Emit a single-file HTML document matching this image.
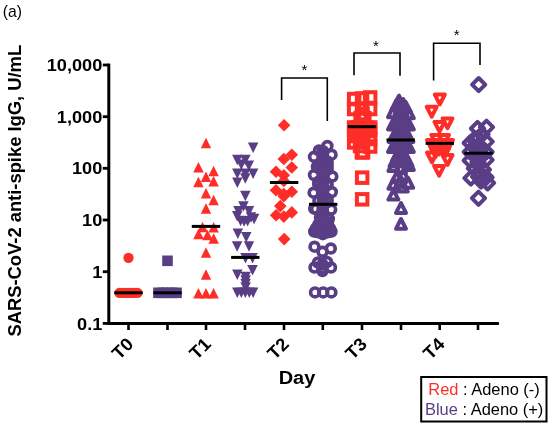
<!DOCTYPE html>
<html><head><meta charset="utf-8"><title>Figure</title>
<style>
html,body{margin:0;padding:0;background:#fff;}
body{width:550px;height:427px;overflow:hidden;}
svg{display:block;}
text{font-family:"Liberation Sans",sans-serif;fill:#000;}
.b16{font-size:17.4px;font-weight:bold;}
.b18{font-size:18px;font-weight:bold;}
.b16t{font-size:18px;font-weight:bold;}
.b17{font-size:18.4px;font-weight:bold;}
.r157{font-size:15.7px;}
.r164{font-size:16.45px;}
.star{font-size:15px;}
</style></head><body>
<svg width="550" height="427" viewBox="0 0 550 427">
<rect width="550" height="427" fill="#fff"/>
<circle cx="128.5" cy="257.8" r="5.15" fill="#ff2d27"/>
<circle cx="119.5" cy="292.8" r="5.15" fill="#ff2d27"/>
<circle cx="122.5" cy="292.8" r="5.15" fill="#ff2d27"/>
<circle cx="125.5" cy="292.8" r="5.15" fill="#ff2d27"/>
<circle cx="128.5" cy="292.8" r="5.15" fill="#ff2d27"/>
<circle cx="131.5" cy="292.8" r="5.15" fill="#ff2d27"/>
<circle cx="134.5" cy="292.8" r="5.15" fill="#ff2d27"/>
<circle cx="137.5" cy="292.8" r="5.15" fill="#ff2d27"/>
<rect x="114.3" y="291.3" width="28.4" height="3" fill="#000"/>
<rect x="162.2" y="255.5" width="10.6" height="10.6" fill="#593e86"/>
<rect x="153.2" y="287.5" width="10.6" height="10.6" fill="#593e86"/>
<rect x="157.7" y="287.5" width="10.6" height="10.6" fill="#593e86"/>
<rect x="162.2" y="287.5" width="10.6" height="10.6" fill="#593e86"/>
<rect x="166.7" y="287.5" width="10.6" height="10.6" fill="#593e86"/>
<rect x="171.2" y="287.5" width="10.6" height="10.6" fill="#593e86"/>
<rect x="153.3" y="291.3" width="28.4" height="3" fill="#000"/>
<path d="M200.8 148.2L211.2 148.2L206.0 137.8Z" fill="#ff2d27"/>
<path d="M193.2 172.6L203.7 172.6L198.4 162.1Z" fill="#ff2d27"/>
<path d="M208.3 176.2L218.8 176.2L213.6 165.8Z" fill="#ff2d27"/>
<path d="M200.8 182.1L211.2 182.1L206.0 171.6Z" fill="#ff2d27"/>
<path d="M193.2 187.2L203.7 187.2L198.4 176.8Z" fill="#ff2d27"/>
<path d="M208.3 186.4L218.8 186.4L213.6 175.9Z" fill="#ff2d27"/>
<path d="M200.8 198.4L211.2 198.4L206.0 187.9Z" fill="#ff2d27"/>
<path d="M208.3 205.2L218.8 205.2L213.6 194.8Z" fill="#ff2d27"/>
<path d="M200.8 213.8L211.2 213.8L206.0 203.3Z" fill="#ff2d27"/>
<path d="M197.3 232.2L207.8 232.2L202.6 221.7Z" fill="#ff2d27"/>
<path d="M193.2 239.2L203.8 239.2L198.5 228.8Z" fill="#ff2d27"/>
<path d="M202.2 240.2L212.8 240.2L207.5 229.8Z" fill="#ff2d27"/>
<path d="M208.4 232.4L218.9 232.4L213.7 221.9Z" fill="#ff2d27"/>
<path d="M208.4 243.8L218.9 243.8L213.7 233.2Z" fill="#ff2d27"/>
<path d="M200.8 257.8L211.2 257.8L206.0 247.2Z" fill="#ff2d27"/>
<path d="M200.8 279.8L211.2 279.8L206.0 269.2Z" fill="#ff2d27"/>
<path d="M193.2 298.6L203.7 298.6L198.4 288.1Z" fill="#ff2d27"/>
<path d="M200.8 298.6L211.2 298.6L206.0 288.1Z" fill="#ff2d27"/>
<path d="M208.3 298.6L218.8 298.6L213.6 288.1Z" fill="#ff2d27"/>
<rect x="191.8" y="224.9" width="28.4" height="3" fill="#000"/>
<path d="M247.9 142.6L258.4 142.6L253.1 153.1Z" fill="#593e86"/>
<path d="M232.1 154.8L242.6 154.8L237.3 165.3Z" fill="#593e86"/>
<path d="M240.1 154.8L250.6 154.8L245.3 165.3Z" fill="#593e86"/>
<path d="M236.1 159.4L246.6 159.4L241.3 169.9Z" fill="#593e86"/>
<path d="M243.6 160.6L254.1 160.6L248.8 171.1Z" fill="#593e86"/>
<path d="M232.1 168.6L242.6 168.6L237.3 179.1Z" fill="#593e86"/>
<path d="M240.1 168.6L250.6 168.6L245.3 179.1Z" fill="#593e86"/>
<path d="M247.9 168.6L258.4 168.6L253.1 179.1Z" fill="#593e86"/>
<path d="M232.1 177.4L242.6 177.4L237.3 187.9Z" fill="#593e86"/>
<path d="M240.1 173.2L250.6 173.2L245.3 183.8Z" fill="#593e86"/>
<path d="M240.1 190.7L250.6 190.7L245.3 201.2Z" fill="#593e86"/>
<path d="M238.2 201.2L248.7 201.2L243.4 211.8Z" fill="#593e86"/>
<path d="M233.2 206.1L243.8 206.1L238.5 216.6Z" fill="#593e86"/>
<path d="M243.8 206.1L254.2 206.1L249.0 216.6Z" fill="#593e86"/>
<path d="M232.0 211.1L242.5 211.1L237.2 221.6Z" fill="#593e86"/>
<path d="M248.9 213.8L259.4 213.8L254.1 224.2Z" fill="#593e86"/>
<path d="M245.8 212.2L256.2 212.2L251.0 222.8Z" fill="#593e86"/>
<path d="M235.4 215.8L245.9 215.8L240.6 226.2Z" fill="#593e86"/>
<path d="M242.4 216.1L252.9 216.1L247.6 226.6Z" fill="#593e86"/>
<path d="M238.9 216.2L249.4 216.2L244.1 226.8Z" fill="#593e86"/>
<path d="M232.6 228.6L243.1 228.6L237.8 239.1Z" fill="#593e86"/>
<path d="M241.0 232.1L251.5 232.1L246.2 242.6Z" fill="#593e86"/>
<path d="M231.9 241.2L242.4 241.2L237.1 251.8Z" fill="#593e86"/>
<path d="M243.8 241.2L254.2 241.2L249.0 251.8Z" fill="#593e86"/>
<path d="M240.2 252.9L250.8 252.9L245.5 263.4Z" fill="#593e86"/>
<path d="M247.2 252.9L257.8 252.9L252.5 263.4Z" fill="#593e86"/>
<path d="M247.2 265.1L257.8 265.1L252.5 275.6Z" fill="#593e86"/>
<path d="M232.1 269.6L242.6 269.6L237.3 280.1Z" fill="#593e86"/>
<path d="M240.4 271.8L250.9 271.8L245.6 282.2Z" fill="#593e86"/>
<path d="M240.4 275.2L250.9 275.2L245.6 285.8Z" fill="#593e86"/>
<path d="M240.4 278.8L250.9 278.8L245.6 289.2Z" fill="#593e86"/>
<path d="M240.4 282.2L250.9 282.2L245.6 292.8Z" fill="#593e86"/>
<path d="M232.1 287.4L242.6 287.4L237.3 297.9Z" fill="#593e86"/>
<path d="M240.1 287.4L250.6 287.4L245.3 297.9Z" fill="#593e86"/>
<path d="M247.9 287.4L258.4 287.4L253.1 297.9Z" fill="#593e86"/>
<path d="M236.1 287.4L246.6 287.4L241.3 297.9Z" fill="#593e86"/>
<path d="M244.1 287.4L254.6 287.4L249.3 297.9Z" fill="#593e86"/>
<rect x="231.1" y="255.9" width="28.4" height="3" fill="#000"/>
<path d="M277.8 125.2L284.1 118.9L290.4 125.2L284.1 131.5Z" fill="#ff2d27"/>
<path d="M285.5 154.8L291.8 148.5L298.1 154.8L291.8 161.1Z" fill="#ff2d27"/>
<path d="M277.5 159.0L283.8 152.7L290.1 159.0L283.8 165.3Z" fill="#ff2d27"/>
<path d="M285.5 167.5L291.8 161.2L298.1 167.5L291.8 173.8Z" fill="#ff2d27"/>
<path d="M269.7 171.7L276.0 165.4L282.3 171.7L276.0 178.0Z" fill="#ff2d27"/>
<path d="M277.5 175.2L283.8 168.9L290.1 175.2L283.8 181.5Z" fill="#ff2d27"/>
<path d="M277.5 180.9L283.8 174.6L290.1 180.9L283.8 187.2Z" fill="#ff2d27"/>
<path d="M269.7 190.2L276.0 183.9L282.3 190.2L276.0 196.5Z" fill="#ff2d27"/>
<path d="M285.5 191.7L291.8 185.4L298.1 191.7L291.8 198.0Z" fill="#ff2d27"/>
<path d="M277.5 194.0L283.8 187.7L290.1 194.0L283.8 200.3Z" fill="#ff2d27"/>
<path d="M277.5 196.3L283.8 190.0L290.1 196.3L283.8 202.6Z" fill="#ff2d27"/>
<path d="M274.0 206.1L280.3 199.8L286.6 206.1L280.3 212.4Z" fill="#ff2d27"/>
<path d="M285.5 212.4L291.8 206.1L298.1 212.4L291.8 218.7Z" fill="#ff2d27"/>
<path d="M269.8 215.2L276.1 208.9L282.4 215.2L276.1 221.5Z" fill="#ff2d27"/>
<path d="M277.5 216.6L283.8 210.3L290.1 216.6L283.8 222.9Z" fill="#ff2d27"/>
<path d="M277.9 239.1L284.2 232.8L290.5 239.1L284.2 245.4Z" fill="#ff2d27"/>
<rect x="269.9" y="181.0" width="28.4" height="3" fill="#000"/>
<circle cx="327.4" cy="146.0" r="4.4" fill="none" stroke="#593e86" stroke-width="3.7"/>
<circle cx="319.0" cy="150.5" r="4.4" fill="none" stroke="#593e86" stroke-width="3.7"/>
<circle cx="331.6" cy="154.7" r="4.4" fill="none" stroke="#593e86" stroke-width="3.7"/>
<circle cx="314.0" cy="156.8" r="4.4" fill="none" stroke="#593e86" stroke-width="3.7"/>
<circle cx="316.9" cy="166.6" r="4.4" fill="none" stroke="#593e86" stroke-width="3.7"/>
<circle cx="314.0" cy="175.0" r="4.4" fill="none" stroke="#593e86" stroke-width="3.7"/>
<circle cx="332.3" cy="176.5" r="4.4" fill="none" stroke="#593e86" stroke-width="3.7"/>
<circle cx="313.6" cy="192.7" r="4.4" fill="none" stroke="#593e86" stroke-width="3.7"/>
<circle cx="331.8" cy="192.0" r="4.4" fill="none" stroke="#593e86" stroke-width="3.7"/>
<circle cx="331.2" cy="209.6" r="4.4" fill="none" stroke="#593e86" stroke-width="3.7"/>
<circle cx="314.2" cy="208.5" r="4.4" fill="none" stroke="#593e86" stroke-width="3.7"/>
<circle cx="314.2" cy="231.5" r="4.4" fill="none" stroke="#593e86" stroke-width="3.7"/>
<circle cx="331.5" cy="231.5" r="4.4" fill="none" stroke="#593e86" stroke-width="3.7"/>
<circle cx="322.8" cy="151.0" r="4.4" fill="none" stroke="#593e86" stroke-width="3.7"/>
<circle cx="322.8" cy="154.2" r="4.4" fill="none" stroke="#593e86" stroke-width="3.7"/>
<circle cx="322.8" cy="157.4" r="4.4" fill="none" stroke="#593e86" stroke-width="3.7"/>
<circle cx="322.8" cy="160.6" r="4.4" fill="none" stroke="#593e86" stroke-width="3.7"/>
<circle cx="322.8" cy="163.8" r="4.4" fill="none" stroke="#593e86" stroke-width="3.7"/>
<circle cx="322.8" cy="167.0" r="4.4" fill="none" stroke="#593e86" stroke-width="3.7"/>
<circle cx="322.8" cy="170.2" r="4.4" fill="none" stroke="#593e86" stroke-width="3.7"/>
<circle cx="322.8" cy="173.4" r="4.4" fill="none" stroke="#593e86" stroke-width="3.7"/>
<circle cx="322.8" cy="176.6" r="4.4" fill="none" stroke="#593e86" stroke-width="3.7"/>
<circle cx="322.8" cy="179.8" r="4.4" fill="none" stroke="#593e86" stroke-width="3.7"/>
<circle cx="322.8" cy="183.0" r="4.4" fill="none" stroke="#593e86" stroke-width="3.7"/>
<circle cx="322.8" cy="186.2" r="4.4" fill="none" stroke="#593e86" stroke-width="3.7"/>
<circle cx="322.8" cy="189.4" r="4.4" fill="none" stroke="#593e86" stroke-width="3.7"/>
<circle cx="322.8" cy="192.6" r="4.4" fill="none" stroke="#593e86" stroke-width="3.7"/>
<circle cx="322.8" cy="195.8" r="4.4" fill="none" stroke="#593e86" stroke-width="3.7"/>
<circle cx="322.8" cy="199.0" r="4.4" fill="none" stroke="#593e86" stroke-width="3.7"/>
<circle cx="322.8" cy="202.2" r="4.4" fill="none" stroke="#593e86" stroke-width="3.7"/>
<circle cx="322.8" cy="205.4" r="4.4" fill="none" stroke="#593e86" stroke-width="3.7"/>
<circle cx="322.8" cy="208.6" r="4.4" fill="none" stroke="#593e86" stroke-width="3.7"/>
<circle cx="322.8" cy="211.8" r="4.4" fill="none" stroke="#593e86" stroke-width="3.7"/>
<circle cx="322.8" cy="215.0" r="4.4" fill="none" stroke="#593e86" stroke-width="3.7"/>
<circle cx="322.8" cy="218.2" r="4.4" fill="none" stroke="#593e86" stroke-width="3.7"/>
<circle cx="322.8" cy="221.4" r="4.4" fill="none" stroke="#593e86" stroke-width="3.7"/>
<circle cx="322.8" cy="224.6" r="4.4" fill="none" stroke="#593e86" stroke-width="3.7"/>
<circle cx="322.8" cy="227.8" r="4.4" fill="none" stroke="#593e86" stroke-width="3.7"/>
<circle cx="322.8" cy="231.0" r="4.4" fill="none" stroke="#593e86" stroke-width="3.7"/>
<circle cx="322.8" cy="234.2" r="4.4" fill="none" stroke="#593e86" stroke-width="3.7"/>
<circle cx="327.4" cy="161.4" r="4.4" fill="none" stroke="#593e86" stroke-width="3.7"/>
<circle cx="327.4" cy="163.1" r="4.4" fill="none" stroke="#593e86" stroke-width="3.7"/>
<circle cx="318.4" cy="164.8" r="4.4" fill="none" stroke="#593e86" stroke-width="3.7"/>
<circle cx="327.4" cy="164.8" r="4.4" fill="none" stroke="#593e86" stroke-width="3.7"/>
<circle cx="318.4" cy="166.5" r="4.4" fill="none" stroke="#593e86" stroke-width="3.7"/>
<circle cx="327.4" cy="166.5" r="4.4" fill="none" stroke="#593e86" stroke-width="3.7"/>
<circle cx="318.4" cy="168.2" r="4.4" fill="none" stroke="#593e86" stroke-width="3.7"/>
<circle cx="327.4" cy="168.2" r="4.4" fill="none" stroke="#593e86" stroke-width="3.7"/>
<circle cx="327.4" cy="169.9" r="4.4" fill="none" stroke="#593e86" stroke-width="3.7"/>
<circle cx="318.4" cy="181.8" r="4.4" fill="none" stroke="#593e86" stroke-width="3.7"/>
<circle cx="318.4" cy="183.5" r="4.4" fill="none" stroke="#593e86" stroke-width="3.7"/>
<circle cx="327.4" cy="183.5" r="4.4" fill="none" stroke="#593e86" stroke-width="3.7"/>
<circle cx="318.4" cy="185.2" r="4.4" fill="none" stroke="#593e86" stroke-width="3.7"/>
<circle cx="327.4" cy="185.2" r="4.4" fill="none" stroke="#593e86" stroke-width="3.7"/>
<circle cx="327.4" cy="198.8" r="4.4" fill="none" stroke="#593e86" stroke-width="3.7"/>
<circle cx="318.4" cy="200.5" r="4.4" fill="none" stroke="#593e86" stroke-width="3.7"/>
<circle cx="327.4" cy="200.5" r="4.4" fill="none" stroke="#593e86" stroke-width="3.7"/>
<circle cx="327.4" cy="202.2" r="4.4" fill="none" stroke="#593e86" stroke-width="3.7"/>
<circle cx="318.4" cy="224.3" r="4.4" fill="none" stroke="#593e86" stroke-width="3.7"/>
<circle cx="327.4" cy="224.3" r="4.4" fill="none" stroke="#593e86" stroke-width="3.7"/>
<circle cx="320.0" cy="217.5" r="4.4" fill="none" stroke="#593e86" stroke-width="3.7"/>
<circle cx="328.8" cy="219.0" r="4.4" fill="none" stroke="#593e86" stroke-width="3.7"/>
<circle cx="320.5" cy="221.5" r="4.4" fill="none" stroke="#593e86" stroke-width="3.7"/>
<circle cx="328.0" cy="222.5" r="4.4" fill="none" stroke="#593e86" stroke-width="3.7"/>
<circle cx="320.0" cy="232.5" r="4.4" fill="none" stroke="#593e86" stroke-width="3.7"/>
<circle cx="326.0" cy="232.5" r="4.4" fill="none" stroke="#593e86" stroke-width="3.7"/>
<circle cx="318.5" cy="226.0" r="4.4" fill="none" stroke="#593e86" stroke-width="3.7"/>
<circle cx="327.5" cy="226.0" r="4.4" fill="none" stroke="#593e86" stroke-width="3.7"/>
<circle cx="317.5" cy="231.0" r="4.4" fill="none" stroke="#593e86" stroke-width="3.7"/>
<circle cx="328.5" cy="231.0" r="4.4" fill="none" stroke="#593e86" stroke-width="3.7"/>
<circle cx="316.0" cy="228.5" r="4.4" fill="none" stroke="#593e86" stroke-width="3.7"/>
<circle cx="330.0" cy="228.5" r="4.4" fill="none" stroke="#593e86" stroke-width="3.7"/>
<circle cx="317.0" cy="232.0" r="4.4" fill="none" stroke="#593e86" stroke-width="3.7"/>
<circle cx="329.0" cy="232.0" r="4.4" fill="none" stroke="#593e86" stroke-width="3.7"/>
<circle cx="316.0" cy="209.0" r="4.4" fill="none" stroke="#593e86" stroke-width="3.7"/>
<circle cx="314.5" cy="246.7" r="4.4" fill="none" stroke="#593e86" stroke-width="3.7"/>
<circle cx="330.8" cy="248.5" r="4.4" fill="none" stroke="#593e86" stroke-width="3.7"/>
<circle cx="322.5" cy="251.8" r="4.4" fill="none" stroke="#593e86" stroke-width="3.7"/>
<circle cx="314.5" cy="267.5" r="4.4" fill="none" stroke="#593e86" stroke-width="3.7"/>
<circle cx="331.0" cy="267.5" r="4.4" fill="none" stroke="#593e86" stroke-width="3.7"/>
<circle cx="322.5" cy="271.0" r="4.4" fill="none" stroke="#593e86" stroke-width="3.7"/>
<circle cx="318.0" cy="262.5" r="4.4" fill="none" stroke="#593e86" stroke-width="3.7"/>
<circle cx="327.0" cy="262.0" r="4.4" fill="none" stroke="#593e86" stroke-width="3.7"/>
<circle cx="322.5" cy="264.5" r="4.4" fill="none" stroke="#593e86" stroke-width="3.7"/>
<circle cx="322.5" cy="268.0" r="4.4" fill="none" stroke="#593e86" stroke-width="3.7"/>
<circle cx="315.0" cy="292.4" r="4.4" fill="none" stroke="#593e86" stroke-width="3.7"/>
<circle cx="323.2" cy="292.4" r="4.4" fill="none" stroke="#593e86" stroke-width="3.7"/>
<circle cx="331.4" cy="292.4" r="4.4" fill="none" stroke="#593e86" stroke-width="3.7"/>
<rect x="309.0" y="202.8" width="28.4" height="3" fill="#000"/>
<rect x="348.9" y="93.8" width="10.5" height="10.5" fill="none" stroke="#ff2d27" stroke-width="4"/>
<rect x="356.8" y="93.2" width="10.5" height="10.5" fill="none" stroke="#ff2d27" stroke-width="4"/>
<rect x="364.9" y="92.2" width="10.5" height="10.5" fill="none" stroke="#ff2d27" stroke-width="4"/>
<rect x="348.9" y="103.8" width="10.5" height="10.5" fill="none" stroke="#ff2d27" stroke-width="4"/>
<rect x="356.8" y="103.2" width="10.5" height="10.5" fill="none" stroke="#ff2d27" stroke-width="4"/>
<rect x="364.9" y="103.8" width="10.5" height="10.5" fill="none" stroke="#ff2d27" stroke-width="4"/>
<rect x="355.4" y="112.8" width="10.5" height="10.5" fill="none" stroke="#ff2d27" stroke-width="4"/>
<rect x="359.1" y="112.8" width="10.5" height="10.5" fill="none" stroke="#ff2d27" stroke-width="4"/>
<rect x="357.2" y="108.8" width="10.5" height="10.5" fill="none" stroke="#ff2d27" stroke-width="4"/>
<rect x="348.9" y="122.2" width="10.5" height="10.5" fill="none" stroke="#ff2d27" stroke-width="4"/>
<rect x="352.9" y="122.2" width="10.5" height="10.5" fill="none" stroke="#ff2d27" stroke-width="4"/>
<rect x="356.9" y="122.2" width="10.5" height="10.5" fill="none" stroke="#ff2d27" stroke-width="4"/>
<rect x="360.9" y="122.2" width="10.5" height="10.5" fill="none" stroke="#ff2d27" stroke-width="4"/>
<rect x="364.9" y="122.2" width="10.5" height="10.5" fill="none" stroke="#ff2d27" stroke-width="4"/>
<rect x="348.9" y="124.4" width="10.5" height="10.5" fill="none" stroke="#ff2d27" stroke-width="4"/>
<rect x="352.9" y="124.4" width="10.5" height="10.5" fill="none" stroke="#ff2d27" stroke-width="4"/>
<rect x="356.9" y="124.4" width="10.5" height="10.5" fill="none" stroke="#ff2d27" stroke-width="4"/>
<rect x="360.9" y="124.4" width="10.5" height="10.5" fill="none" stroke="#ff2d27" stroke-width="4"/>
<rect x="364.9" y="124.4" width="10.5" height="10.5" fill="none" stroke="#ff2d27" stroke-width="4"/>
<rect x="350.8" y="126.2" width="10.5" height="10.5" fill="none" stroke="#ff2d27" stroke-width="4"/>
<rect x="363.2" y="125.8" width="10.5" height="10.5" fill="none" stroke="#ff2d27" stroke-width="4"/>
<rect x="348.9" y="137.2" width="10.5" height="10.5" fill="none" stroke="#ff2d27" stroke-width="4"/>
<rect x="357.9" y="133.3" width="10.5" height="10.5" fill="none" stroke="#ff2d27" stroke-width="4"/>
<rect x="364.9" y="133.8" width="10.5" height="10.5" fill="none" stroke="#ff2d27" stroke-width="4"/>
<rect x="364.9" y="141.3" width="10.5" height="10.5" fill="none" stroke="#ff2d27" stroke-width="4"/>
<rect x="356.6" y="147.1" width="10.5" height="10.5" fill="none" stroke="#ff2d27" stroke-width="4"/>
<rect x="357.8" y="147.1" width="10.5" height="10.5" fill="none" stroke="#ff2d27" stroke-width="4"/>
<rect x="354.8" y="140.8" width="10.5" height="10.5" fill="none" stroke="#ff2d27" stroke-width="4"/>
<rect x="351.8" y="130.8" width="10.5" height="10.5" fill="none" stroke="#ff2d27" stroke-width="4"/>
<rect x="356.9" y="172.4" width="10.5" height="10.5" fill="none" stroke="#ff2d27" stroke-width="4"/>
<rect x="356.9" y="194.1" width="10.5" height="10.5" fill="none" stroke="#ff2d27" stroke-width="4"/>
<rect x="347.8" y="125.2" width="28.4" height="3" fill="#000"/>
<path d="M394.0 105.5L404.0 105.5L399.0 95.7Z" fill="none" stroke="#593e86" stroke-width="4" stroke-linejoin="round"/>
<path d="M398.2 108.8L408.2 108.8L403.2 99.0Z" fill="none" stroke="#593e86" stroke-width="4" stroke-linejoin="round"/>
<path d="M391.3 110.1L401.3 110.1L396.3 100.3Z" fill="none" stroke="#593e86" stroke-width="4" stroke-linejoin="round"/>
<path d="M400.8 111.9L410.8 111.9L405.8 102.1Z" fill="none" stroke="#593e86" stroke-width="4" stroke-linejoin="round"/>
<path d="M396.0 110.9L406.0 110.9L401.0 101.1Z" fill="none" stroke="#593e86" stroke-width="4" stroke-linejoin="round"/>
<path d="M388.0 117.2L398.0 117.2L393.0 107.4Z" fill="none" stroke="#593e86" stroke-width="4" stroke-linejoin="round"/>
<path d="M396.0 116.9L406.0 116.9L401.0 107.1Z" fill="none" stroke="#593e86" stroke-width="4" stroke-linejoin="round"/>
<path d="M403.8 118.2L413.8 118.2L408.8 108.4Z" fill="none" stroke="#593e86" stroke-width="4" stroke-linejoin="round"/>
<path d="M394.5 114.4L404.5 114.4L399.5 104.6Z" fill="none" stroke="#593e86" stroke-width="4" stroke-linejoin="round"/>
<path d="M397.5 115.4L407.5 115.4L402.5 105.6Z" fill="none" stroke="#593e86" stroke-width="4" stroke-linejoin="round"/>
<path d="M392.0 123.4L402.0 123.4L397.0 113.6Z" fill="none" stroke="#593e86" stroke-width="4" stroke-linejoin="round"/>
<path d="M400.0 123.4L410.0 123.4L405.0 113.6Z" fill="none" stroke="#593e86" stroke-width="4" stroke-linejoin="round"/>
<path d="M396.0 120.9L406.0 120.9L401.0 111.1Z" fill="none" stroke="#593e86" stroke-width="4" stroke-linejoin="round"/>
<path d="M388.0 129.4L398.0 129.4L393.0 119.6Z" fill="none" stroke="#593e86" stroke-width="4" stroke-linejoin="round"/>
<path d="M396.0 129.4L406.0 129.4L401.0 119.6Z" fill="none" stroke="#593e86" stroke-width="4" stroke-linejoin="round"/>
<path d="M403.8 129.4L413.8 129.4L408.8 119.6Z" fill="none" stroke="#593e86" stroke-width="4" stroke-linejoin="round"/>
<path d="M392.0 128.9L402.0 128.9L397.0 119.1Z" fill="none" stroke="#593e86" stroke-width="4" stroke-linejoin="round"/>
<path d="M400.0 128.9L410.0 128.9L405.0 119.1Z" fill="none" stroke="#593e86" stroke-width="4" stroke-linejoin="round"/>
<path d="M394.6 135.1L404.6 135.1L399.6 125.3Z" fill="none" stroke="#593e86" stroke-width="4" stroke-linejoin="round"/>
<path d="M396.4 135.1L406.4 135.1L401.4 125.3Z" fill="none" stroke="#593e86" stroke-width="4" stroke-linejoin="round"/>
<path d="M388.6 142.0L398.6 142.0L393.6 132.2Z" fill="none" stroke="#593e86" stroke-width="4" stroke-linejoin="round"/>
<path d="M396.0 142.0L406.0 142.0L401.0 132.2Z" fill="none" stroke="#593e86" stroke-width="4" stroke-linejoin="round"/>
<path d="M403.4 142.0L413.4 142.0L408.4 132.2Z" fill="none" stroke="#593e86" stroke-width="4" stroke-linejoin="round"/>
<path d="M392.0 141.9L402.0 141.9L397.0 132.1Z" fill="none" stroke="#593e86" stroke-width="4" stroke-linejoin="round"/>
<path d="M400.0 141.9L410.0 141.9L405.0 132.1Z" fill="none" stroke="#593e86" stroke-width="4" stroke-linejoin="round"/>
<path d="M392.0 146.4L402.0 146.4L397.0 136.6Z" fill="none" stroke="#593e86" stroke-width="4" stroke-linejoin="round"/>
<path d="M400.0 146.4L410.0 146.4L405.0 136.6Z" fill="none" stroke="#593e86" stroke-width="4" stroke-linejoin="round"/>
<path d="M396.0 145.4L406.0 145.4L401.0 135.6Z" fill="none" stroke="#593e86" stroke-width="4" stroke-linejoin="round"/>
<path d="M388.0 151.9L398.0 151.9L393.0 142.1Z" fill="none" stroke="#593e86" stroke-width="4" stroke-linejoin="round"/>
<path d="M396.0 151.9L406.0 151.9L401.0 142.1Z" fill="none" stroke="#593e86" stroke-width="4" stroke-linejoin="round"/>
<path d="M403.8 151.9L413.8 151.9L408.8 142.1Z" fill="none" stroke="#593e86" stroke-width="4" stroke-linejoin="round"/>
<path d="M392.0 151.4L402.0 151.4L397.0 141.6Z" fill="none" stroke="#593e86" stroke-width="4" stroke-linejoin="round"/>
<path d="M400.0 151.4L410.0 151.4L405.0 141.6Z" fill="none" stroke="#593e86" stroke-width="4" stroke-linejoin="round"/>
<path d="M396.0 155.9L406.0 155.9L401.0 146.1Z" fill="none" stroke="#593e86" stroke-width="4" stroke-linejoin="round"/>
<path d="M396.0 158.4L406.0 158.4L401.0 148.6Z" fill="none" stroke="#593e86" stroke-width="4" stroke-linejoin="round"/>
<path d="M392.0 160.9L402.0 160.9L397.0 151.1Z" fill="none" stroke="#593e86" stroke-width="4" stroke-linejoin="round"/>
<path d="M400.0 161.4L410.0 161.4L405.0 151.6Z" fill="none" stroke="#593e86" stroke-width="4" stroke-linejoin="round"/>
<path d="M396.0 164.9L406.0 164.9L401.0 155.1Z" fill="none" stroke="#593e86" stroke-width="4" stroke-linejoin="round"/>
<path d="M389.5 166.4L399.5 166.4L394.5 156.6Z" fill="none" stroke="#593e86" stroke-width="4" stroke-linejoin="round"/>
<path d="M402.5 165.9L412.5 165.9L407.5 156.1Z" fill="none" stroke="#593e86" stroke-width="4" stroke-linejoin="round"/>
<path d="M388.4 170.9L398.4 170.9L393.4 161.1Z" fill="none" stroke="#593e86" stroke-width="4" stroke-linejoin="round"/>
<path d="M396.0 172.6L406.0 172.6L401.0 162.8Z" fill="none" stroke="#593e86" stroke-width="4" stroke-linejoin="round"/>
<path d="M403.8 169.9L413.8 169.9L408.8 160.1Z" fill="none" stroke="#593e86" stroke-width="4" stroke-linejoin="round"/>
<path d="M391.9 181.7L401.9 181.7L396.9 171.9Z" fill="none" stroke="#593e86" stroke-width="4" stroke-linejoin="round"/>
<path d="M398.2 179.6L408.2 179.6L403.2 169.8Z" fill="none" stroke="#593e86" stroke-width="4" stroke-linejoin="round"/>
<path d="M395.5 185.9L405.5 185.9L400.5 176.1Z" fill="none" stroke="#593e86" stroke-width="4" stroke-linejoin="round"/>
<path d="M388.4 188.7L398.4 188.7L393.4 178.9Z" fill="none" stroke="#593e86" stroke-width="4" stroke-linejoin="round"/>
<path d="M403.2 187.8L413.2 187.8L408.2 178.0Z" fill="none" stroke="#593e86" stroke-width="4" stroke-linejoin="round"/>
<path d="M397.8 191.6L407.8 191.6L402.8 181.8Z" fill="none" stroke="#593e86" stroke-width="4" stroke-linejoin="round"/>
<path d="M388.4 199.6L398.4 199.6L393.4 189.8Z" fill="none" stroke="#593e86" stroke-width="4" stroke-linejoin="round"/>
<path d="M396.0 212.9L406.0 212.9L401.0 203.1Z" fill="none" stroke="#593e86" stroke-width="4" stroke-linejoin="round"/>
<path d="M396.0 228.8L406.0 228.8L401.0 219.0Z" fill="none" stroke="#593e86" stroke-width="4" stroke-linejoin="round"/>
<rect x="386.5" y="138.5" width="28.4" height="3" fill="#000"/>
<path d="M434.8 94.5L444.8 94.5L439.8 104.3Z" fill="none" stroke="#ff2d27" stroke-width="4" stroke-linejoin="round"/>
<path d="M426.7 106.8L436.7 106.8L431.7 116.6Z" fill="none" stroke="#ff2d27" stroke-width="4" stroke-linejoin="round"/>
<path d="M442.5 118.4L452.5 118.4L447.5 128.2Z" fill="none" stroke="#ff2d27" stroke-width="4" stroke-linejoin="round"/>
<path d="M434.5 121.9L444.5 121.9L439.5 131.7Z" fill="none" stroke="#ff2d27" stroke-width="4" stroke-linejoin="round"/>
<path d="M431.3 134.9L441.3 134.9L436.3 144.7Z" fill="none" stroke="#ff2d27" stroke-width="4" stroke-linejoin="round"/>
<path d="M439.0 134.9L449.0 134.9L444.0 144.7Z" fill="none" stroke="#ff2d27" stroke-width="4" stroke-linejoin="round"/>
<path d="M427.0 140.1L437.0 140.1L432.0 149.9Z" fill="none" stroke="#ff2d27" stroke-width="4" stroke-linejoin="round"/>
<path d="M435.0 140.1L445.0 140.1L440.0 149.9Z" fill="none" stroke="#ff2d27" stroke-width="4" stroke-linejoin="round"/>
<path d="M443.0 140.1L453.0 140.1L448.0 149.9Z" fill="none" stroke="#ff2d27" stroke-width="4" stroke-linejoin="round"/>
<path d="M431.0 142.6L441.0 142.6L436.0 152.4Z" fill="none" stroke="#ff2d27" stroke-width="4" stroke-linejoin="round"/>
<path d="M439.0 143.1L449.0 143.1L444.0 152.9Z" fill="none" stroke="#ff2d27" stroke-width="4" stroke-linejoin="round"/>
<path d="M434.0 144.6L444.0 144.6L439.0 154.4Z" fill="none" stroke="#ff2d27" stroke-width="4" stroke-linejoin="round"/>
<path d="M427.0 152.5L437.0 152.5L432.0 162.3Z" fill="none" stroke="#ff2d27" stroke-width="4" stroke-linejoin="round"/>
<path d="M442.5 155.0L452.5 155.0L447.5 164.8Z" fill="none" stroke="#ff2d27" stroke-width="4" stroke-linejoin="round"/>
<path d="M430.5 147.1L440.5 147.1L435.5 156.9Z" fill="none" stroke="#ff2d27" stroke-width="4" stroke-linejoin="round"/>
<path d="M439.2 148.1L449.2 148.1L444.2 157.9Z" fill="none" stroke="#ff2d27" stroke-width="4" stroke-linejoin="round"/>
<path d="M434.1 165.9L444.1 165.9L439.1 175.7Z" fill="none" stroke="#ff2d27" stroke-width="4" stroke-linejoin="round"/>
<rect x="425.6" y="141.9" width="28.4" height="3" fill="#000"/>
<path d="M472.1 84.6L478.7 78.0L485.3 84.6L478.7 91.2Z" fill="none" stroke="#593e86" stroke-width="4" stroke-linejoin="round"/>
<path d="M479.9 127.2L486.5 120.6L493.1 127.2L486.5 133.8Z" fill="none" stroke="#593e86" stroke-width="4" stroke-linejoin="round"/>
<path d="M470.9 128.5L477.5 121.9L484.1 128.5L477.5 135.1Z" fill="none" stroke="#593e86" stroke-width="4" stroke-linejoin="round"/>
<path d="M475.4 134.5L482.0 127.9L488.6 134.5L482.0 141.1Z" fill="none" stroke="#593e86" stroke-width="4" stroke-linejoin="round"/>
<path d="M479.6 141.6L486.2 135.0L492.8 141.6L486.2 148.2Z" fill="none" stroke="#593e86" stroke-width="4" stroke-linejoin="round"/>
<path d="M463.6 143.0L470.2 136.4L476.8 143.0L470.2 149.6Z" fill="none" stroke="#593e86" stroke-width="4" stroke-linejoin="round"/>
<path d="M471.4 138.0L478.0 131.4L484.6 138.0L478.0 144.6Z" fill="none" stroke="#593e86" stroke-width="4" stroke-linejoin="round"/>
<path d="M467.4 139.5L474.0 132.9L480.6 139.5L474.0 146.1Z" fill="none" stroke="#593e86" stroke-width="4" stroke-linejoin="round"/>
<path d="M471.4 146.0L478.0 139.4L484.6 146.0L478.0 152.6Z" fill="none" stroke="#593e86" stroke-width="4" stroke-linejoin="round"/>
<path d="M475.4 148.0L482.0 141.4L488.6 148.0L482.0 154.6Z" fill="none" stroke="#593e86" stroke-width="4" stroke-linejoin="round"/>
<path d="M467.4 147.0L474.0 140.4L480.6 147.0L474.0 153.6Z" fill="none" stroke="#593e86" stroke-width="4" stroke-linejoin="round"/>
<path d="M463.6 152.0L470.2 145.4L476.8 152.0L470.2 158.6Z" fill="none" stroke="#593e86" stroke-width="4" stroke-linejoin="round"/>
<path d="M479.5 152.0L486.1 145.4L492.7 152.0L486.1 158.6Z" fill="none" stroke="#593e86" stroke-width="4" stroke-linejoin="round"/>
<path d="M471.4 152.0L478.0 145.4L484.6 152.0L478.0 158.6Z" fill="none" stroke="#593e86" stroke-width="4" stroke-linejoin="round"/>
<path d="M463.6 160.5L470.2 153.9L476.8 160.5L470.2 167.1Z" fill="none" stroke="#593e86" stroke-width="4" stroke-linejoin="round"/>
<path d="M479.5 159.8L486.1 153.2L492.7 159.8L486.1 166.4Z" fill="none" stroke="#593e86" stroke-width="4" stroke-linejoin="round"/>
<path d="M471.4 158.0L478.0 151.4L484.6 158.0L478.0 164.6Z" fill="none" stroke="#593e86" stroke-width="4" stroke-linejoin="round"/>
<path d="M471.4 162.0L478.0 155.4L484.6 162.0L478.0 168.6Z" fill="none" stroke="#593e86" stroke-width="4" stroke-linejoin="round"/>
<path d="M467.7 168.3L474.3 161.7L480.9 168.3L474.3 174.9Z" fill="none" stroke="#593e86" stroke-width="4" stroke-linejoin="round"/>
<path d="M476.8 169.7L483.4 163.1L490.0 169.7L483.4 176.3Z" fill="none" stroke="#593e86" stroke-width="4" stroke-linejoin="round"/>
<path d="M471.9 165.0L478.5 158.4L485.1 165.0L478.5 171.6Z" fill="none" stroke="#593e86" stroke-width="4" stroke-linejoin="round"/>
<path d="M472.4 172.0L479.0 165.4L485.6 172.0L479.0 178.6Z" fill="none" stroke="#593e86" stroke-width="4" stroke-linejoin="round"/>
<path d="M464.3 178.1L470.9 171.5L477.5 178.1L470.9 184.7Z" fill="none" stroke="#593e86" stroke-width="4" stroke-linejoin="round"/>
<path d="M479.5 177.4L486.1 170.8L492.7 177.4L486.1 184.0Z" fill="none" stroke="#593e86" stroke-width="4" stroke-linejoin="round"/>
<path d="M471.9 176.7L478.5 170.1L485.1 176.7L478.5 183.3Z" fill="none" stroke="#593e86" stroke-width="4" stroke-linejoin="round"/>
<path d="M481.0 182.9L487.6 176.3L494.2 182.9L487.6 189.5Z" fill="none" stroke="#593e86" stroke-width="4" stroke-linejoin="round"/>
<path d="M474.4 181.0L481.0 174.4L487.6 181.0L481.0 187.6Z" fill="none" stroke="#593e86" stroke-width="4" stroke-linejoin="round"/>
<path d="M471.9 198.2L478.5 191.6L485.1 198.2L478.5 204.8Z" fill="none" stroke="#593e86" stroke-width="4" stroke-linejoin="round"/>
<rect x="464.3" y="151.7" width="28.4" height="3" fill="#000"/>
<rect x="107.3" y="63.6" width="3" height="261.3" fill="#000"/>
<rect x="107.3" y="322" width="391.8" height="3" rx="1" fill="#000"/>
<rect x="102.8" y="63.6" width="6" height="2.8" fill="#000"/>
<text transform="translate(102.3,71.1) scale(1.045,1)" text-anchor="end" class="b16">10,000</text>
<rect x="102.8" y="115.3" width="6" height="2.8" fill="#000"/>
<text transform="translate(102.3,122.8) scale(1.045,1)" text-anchor="end" class="b16">1,000</text>
<rect x="102.8" y="166.9" width="6" height="2.8" fill="#000"/>
<text transform="translate(102.3,174.4) scale(1.045,1)" text-anchor="end" class="b16">100</text>
<rect x="102.8" y="218.6" width="6" height="2.8" fill="#000"/>
<text transform="translate(102.3,226.1) scale(1.045,1)" text-anchor="end" class="b16">10</text>
<rect x="102.8" y="270.3" width="6" height="2.8" fill="#000"/>
<text transform="translate(102.3,277.8) scale(1.045,1)" text-anchor="end" class="b16">1</text>
<rect x="102.8" y="322.0" width="6" height="2.8" fill="#000"/>
<text transform="translate(102.3,329.5) scale(1.045,1)" text-anchor="end" class="b16">0.1</text>
<rect x="127.2" y="323" width="2.6" height="7" fill="#000"/>
<rect x="166.2" y="323" width="2.6" height="7" fill="#000"/>
<rect x="204.7" y="323" width="2.6" height="7" fill="#000"/>
<rect x="243.7" y="323" width="2.6" height="7" fill="#000"/>
<rect x="282.7" y="323" width="2.6" height="7" fill="#000"/>
<rect x="321.5" y="323" width="2.6" height="7" fill="#000"/>
<rect x="360.7" y="323" width="2.6" height="7" fill="#000"/>
<rect x="399.7" y="323" width="2.6" height="7" fill="#000"/>
<rect x="438.4" y="323" width="2.6" height="7" fill="#000"/>
<rect x="476.7" y="323" width="2.6" height="7" fill="#000"/>
<text transform="translate(134.5,345.3) rotate(-45) scale(1.03,1)" text-anchor="end" class="b18">T0</text>
<text transform="translate(212.0,345.3) rotate(-45) scale(1.03,1)" text-anchor="end" class="b18">T1</text>
<text transform="translate(290.0,345.3) rotate(-45) scale(1.03,1)" text-anchor="end" class="b18">T2</text>
<text transform="translate(368.0,345.3) rotate(-45) scale(1.03,1)" text-anchor="end" class="b18">T3</text>
<text transform="translate(445.7,345.3) rotate(-45) scale(1.03,1)" text-anchor="end" class="b18">T4</text>
<text transform="translate(297,383.7) scale(1.085,1)" text-anchor="middle" class="b17">Day</text>
<text transform="translate(20.6,190.7) rotate(-90) scale(1.02,1)" text-anchor="middle" class="b16t">SARS-CoV-2 anti-spike IgG, U/mL</text>
<text x="2.7" y="16.7" class="r157">(a)</text>
<path d="M281.6 100V78H327.3V121" fill="none" stroke="#000" stroke-width="1.6"/><text x="304.4" y="74.8" text-anchor="middle" class="star">*</text>
<path d="M354 75.2V53H400V75.8" fill="none" stroke="#000" stroke-width="1.6"/><text x="376" y="50.5" text-anchor="middle" class="star">*</text>
<path d="M433.6 80.5V43.2H480V65" fill="none" stroke="#000" stroke-width="1.6"/><text x="456.7" y="40" text-anchor="middle" class="star">*</text>
<rect x="421.2" y="377" width="125.3" height="44.5" fill="#fff" stroke="#000" stroke-width="2"/>
<text x="428.3" y="394.7" class="r164"><tspan fill="#ff2d27">Red</tspan> : Adeno (-)</text>
<text x="425" y="414.7" class="r164"><tspan fill="#593e86">Blue</tspan> : Adeno (+)</text>
</svg>
</body></html>
